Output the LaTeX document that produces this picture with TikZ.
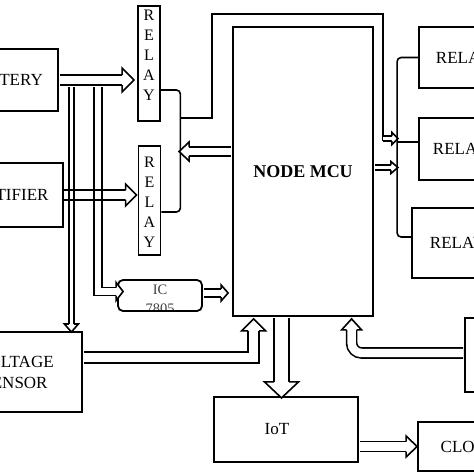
\documentclass[tikz,border=0pt]{standalone}
\usepackage{fontspec}
\setmainfont{Liberation Serif}
\usetikzlibrary{calc}

\tikzset{
	box/.style={draw, line width=1.8pt, inner sep=0pt, font=\fontsize{17}{21}\selectfont},
	vbox/.style={box, minimum width=22pt},
	vtext/.style={align=center, font=\fontsize{16}{20}\selectfont},
	blk/.style={double, line width=1.6pt, double distance between line centers=#1pt},
	wire/.style={line width=1.6pt},
	pics/bhead/.style args={#1/#2/#3}{code={
		\draw[line width=1.6pt, fill=white] (-#3,#1) -- (-#3,#2) -- (0,0) -- (-#3,-#2) -- (-#3,-#1);
	}},
}

\begin{document}
\begin{tikzpicture}[x=1pt, y=-1pt]
	%%%%% START %%%%%
	\useasboundingbox (0,0) rectangle (474,474);
	\clip (0,0) rectangle (474,474);
	
	\node[box, minimum width=106pt, minimum height=62pt] (bat) at (5,80) {BATTERY};
	\node[box, minimum width=115pt, minimum height=64pt] (rect) at (5.5,195) {RECTIFIER};
	\node[box, minimum width=134pt, minimum height=80pt, align=center] (vs) at (15,372) {VOLTAGE\\SENSOR};
	
	\node[vbox, minimum height=115pt, label={[vtext, yshift=8.5pt]center:R\\E\\L\\A\\Y}] (rlyA) at (149,63.5) {};
	\node[vbox, minimum height=109pt, label={[vtext, yshift=-1.5pt]center:R\\E\\L\\A\\Y}] (rlyB) at (149.5,200.5) {};
	
	\node[box, rounded corners=5pt, minimum width=84pt, minimum height=31pt,
		path picture={\node[align=center, text=black!75, font=\fontsize{14.5}{19}\selectfont, yshift=-3.5pt] at (path picture bounding box.center) {IC\\7805};}] (ic) at (160,295.5) {};
	
	\node[box, minimum width=140pt, minimum height=289pt, font=\bfseries\fontsize{18}{22}\selectfont] (mcu) at (303,171.5) {NODE MCU};
	
	\node[box, minimum width=89pt, minimum height=61pt] (rlyR1) at (463.5,57.5) {RELAY};
	\node[box, minimum width=83pt, minimum height=62pt] (rlyR2) at (460.5,149) {RELAY};
	\node[box, minimum width=91pt, minimum height=70pt] (rlyR3) at (457.5,243) {RELAY};
	\node[box, minimum width=70pt, minimum height=74pt] (src) at (500,355) {};
	
	\node[box, minimum width=144pt, minimum height=65pt] (iot) at (286,429.5) {\hspace*{-18pt}IoT};
	\node[box, minimum width=104pt, minimum height=49pt] (cloud) at (470,446.5) {CLOUD};
	
	% supply side
	\draw[blk=5] ($(bat.east)+(12.5,6.8)$) -- ($(bat.east)+(12.5,244)$);
	\pic[rotate=-90] at ($(bat.east)+(12.5,252)$) {bhead=2.5/7/8};
	\draw[blk=8] ($(bat.east)+(39,6.8)$) |- ($(ic.west)+(-1,-4)$);
	\pic at ($(ic.west)+(6,-4)$) {bhead=4/9/7};
	
	\draw[blk=10] ($(bat.east)+(0.9,0)$) -- ($(bat.east -| rlyA.west)+(-15,0)$);
	\pic at ($(bat.east -| rlyA.west)+(-3,0)$) {bhead=5/12/12};
	\draw[wire] ($(rect.east)+(0,-5)$) -- ++(63,0) ($(rect.east)+(0,5)$) -- ++(63,0);
	\pic at ($(rect.east -| rlyB.west)+(-1,0)$) {bhead=5/11/11};
	
	\draw[blk=8] ($(ic.east)+(0.9,-2.5)$) -- ($(ic.east -| mcu.west)+(-11,-2.5)$);
	\pic at ($(ic.east -| mcu.west)+(-4,-2.5)$) {bhead=4/8/7};
	
	\draw[blk=11] ($(vs.east)+(0.9,-14.5)$) -| ($(mcu.south west)+(21.5,14)$);
	\pic[rotate=90] at ($(mcu.south west)+(21.5,2)$) {bhead=5.5/12/12};
	
	% relays on the left
	\coordinate (lbus) at ($(rlyA.east)+(20,54.5)$);
	\draw[wire, rounded corners=4pt] ($(rlyA.east)+(0,26.5)$) -| ($(rlyB.east)+(19,11.5)$) -- ($(rlyB.east)+(0,11.5)$);
	\draw[wire] (lbus) -| ($(mcu.north west)+(-20,-12)$) -| ($(mcu.east)+(9,-31)$);
	\draw[blk=5] ($(mcu.east)+(9,-33)$) -- ($(mcu.east)+(18,-33)$);
	\pic at ($(mcu.east)+(24,-33)$) {bhead=2.5/6/6};
	
	\draw[blk=9] ($(mcu.west)+(-0.9,-20)$) -- ($(mcu.west)+(-43,-20)$);
	\pic[rotate=180] at ($(mcu.west)+(-53,-20)$) {bhead=4.5/9.5/10};
	
	% relays on the right
	\draw[blk=5] ($(mcu.east)+(0.9,-4)$) -- ($(mcu.east)+(17,-4)$);
	\pic at ($(mcu.east)+(24,-4)$) {bhead=2.5/6/7};
	\draw[wire, rounded corners=4pt] (rlyR1.west) -| ($(rlyR3.west)+(-14,-6)$) -- ($(rlyR3.west)+(0,-6)$);
	\draw[wire] ($(rlyR2.west)+(-21,-7)$) -- ($(rlyR2.west)+(0,-7)$);
	
	% bottom
	\draw[blk=10, rounded corners=10pt] ($(src.west)+(-0.9,-2)$) -| ($(mcu.south west)+(119.5,13)$);
	\pic[rotate=90] at ($(mcu.south west)+(119.5,2)$) {bhead=5/10/11};
	
	\draw[blk=15] ($(mcu.south)+(-21.5,0.9)$) -- ($(mcu.south)+(-21.5,65)$);
	\pic[rotate=-90] at ($(mcu.south)+(-21.5,81)$) {bhead=7.5/17/16};
	
	\draw[blk=10] ($(iot.east |- cloud.west)+(0.9,0)$) -- ($(cloud.west)+(-11,0)$);
	\pic at (cloud.west) {bhead=5/10.5/11};
	
	%%%%% END %%%%%
\end{tikzpicture}
\end{document}
